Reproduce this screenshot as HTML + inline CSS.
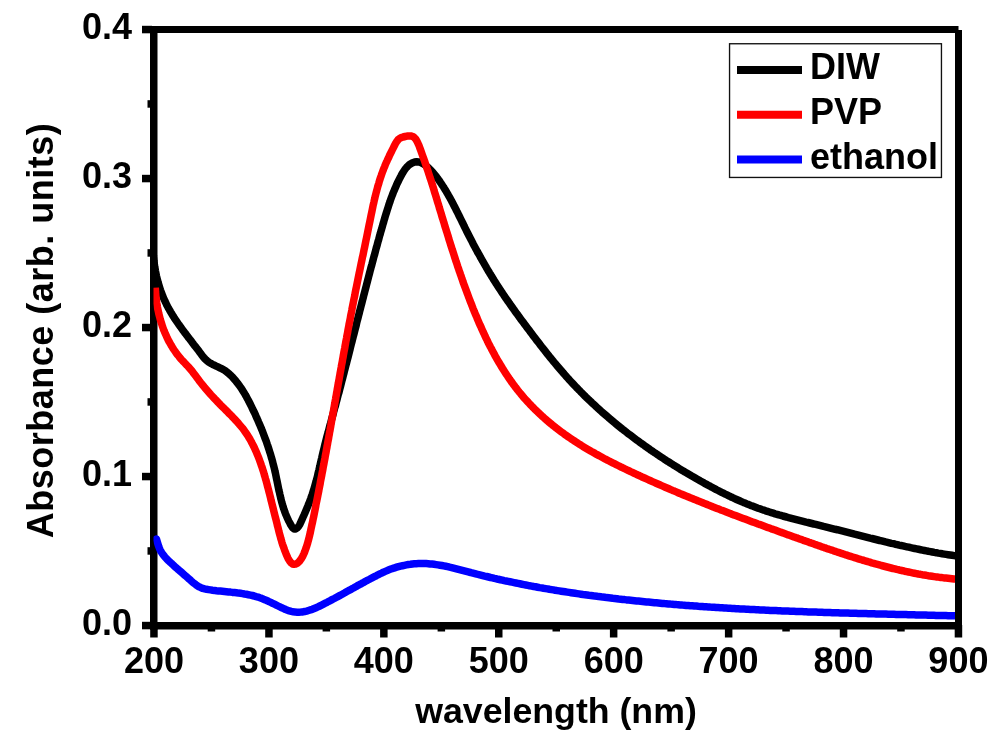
<!DOCTYPE html>
<html><head><meta charset="utf-8"><style>
html,body{margin:0;padding:0;background:#fff;width:988px;height:737px;overflow:hidden}
svg{display:block;will-change:transform}
text{font-family:"Liberation Sans",sans-serif}
</style></head><body>
<svg width="988" height="737" viewBox="0 0 988 737">
<rect width="988" height="737" fill="#fff"/>
<defs><clipPath id="pc"><rect x="153.5" y="30" width="801.5" height="592"/></clipPath></defs>
<g fill="#000">
<rect x="150" y="26" width="7.5" height="603.5"/>
<rect x="150" y="622" width="812" height="7.5"/>
<rect x="142" y="26" width="816.5" height="7"/>
<rect x="955" y="30" width="7" height="599.5"/>
<rect x="142" y="621.8" width="10" height="7.5"/>
<rect x="142" y="472.8" width="10" height="7.5"/>
<rect x="142" y="323.8" width="10" height="7.5"/>
<rect x="142" y="174.8" width="10" height="7.5"/>
<rect x="142" y="25.8" width="10" height="7.5"/>
<rect x="147.5" y="547.2" width="5" height="7.5"/>
<rect x="147.5" y="398.2" width="5" height="7.5"/>
<rect x="147.5" y="249.2" width="5" height="7.5"/>
<rect x="147.5" y="100.2" width="5" height="7.5"/>
<rect x="150.2" y="625" width="7.5" height="12.5"/>
<rect x="265.2" y="625" width="7.5" height="12.5"/>
<rect x="380.1" y="625" width="7.5" height="12.5"/>
<rect x="495.0" y="625" width="7.5" height="12.5"/>
<rect x="609.9" y="625" width="7.5" height="12.5"/>
<rect x="724.9" y="625" width="7.5" height="12.5"/>
<rect x="839.8" y="625" width="7.5" height="12.5"/>
<rect x="954.7" y="625" width="7.5" height="12.5"/>
<rect x="207.7" y="625" width="7.5" height="6.5"/>
<rect x="322.6" y="625" width="7.5" height="6.5"/>
<rect x="437.6" y="625" width="7.5" height="6.5"/>
<rect x="552.5" y="625" width="7.5" height="6.5"/>
<rect x="667.4" y="625" width="7.5" height="6.5"/>
<rect x="782.3" y="625" width="7.5" height="6.5"/>
<rect x="897.2" y="625" width="7.5" height="6.5"/>
</g>
<g clip-path="url(#pc)" fill="none" stroke-width="7.5" stroke-linejoin="round" stroke-linecap="butt">
<path d="M153.4,255.1 L153.5,257.0 L153.7,259.0 L153.9,260.9 L154.2,262.9 L154.4,264.8 L154.7,266.8 L155.1,268.8 L155.4,270.7 L155.8,272.7 L156.2,274.7 L156.6,276.6 L157.1,278.6 L157.6,280.5 L158.1,282.5 L158.7,284.4 L159.3,286.3 L159.9,288.3 L160.5,290.2 L161.2,292.1 L161.9,293.9 L162.6,295.8 L163.4,297.7 L164.2,299.5 L165.0,301.3 L165.9,303.1 L166.7,304.9 L167.7,306.7 L168.6,308.4 L169.6,310.1 L170.6,311.9 L171.6,313.6 L172.6,315.2 L173.7,316.9 L174.7,318.6 L175.8,320.2 L177.0,321.9 L178.1,323.5 L179.2,325.1 L180.4,326.7 L181.6,328.4 L182.7,330.0 L183.9,331.6 L185.1,333.2 L186.3,334.7 L187.5,336.3 L188.7,337.9 L190.0,339.5 L191.2,341.1 L192.4,342.7 L193.6,344.3 L194.8,345.8 L196.1,347.4 L197.3,349.0 L198.5,350.6 L199.7,352.2 L200.9,353.8 L202.1,355.4 L203.3,357.0 L204.6,358.5 L206.0,359.9 L207.5,361.2 L209.1,362.3 L210.8,363.4 L212.5,364.3 L214.3,365.2 L216.2,366.1 L218.0,366.9 L219.8,367.8 L221.6,368.7 L223.4,369.6 L225.1,370.7 L226.7,371.8 L228.2,373.1 L229.7,374.4 L231.2,375.8 L232.6,377.2 L233.9,378.7 L235.2,380.2 L236.5,381.8 L237.7,383.3 L238.9,384.9 L240.0,386.5 L241.2,388.2 L242.3,389.8 L243.3,391.5 L244.4,393.2 L245.4,395.0 L246.4,396.7 L247.3,398.4 L248.3,400.2 L249.2,402.0 L250.1,403.8 L251.0,405.6 L251.9,407.4 L252.7,409.2 L253.6,411.0 L254.5,412.8 L255.3,414.6 L256.1,416.4 L256.9,418.3 L257.8,420.1 L258.5,421.9 L259.3,423.8 L260.1,425.6 L260.9,427.4 L261.6,429.3 L262.4,431.1 L263.1,433.0 L263.8,434.8 L264.5,436.7 L265.2,438.6 L265.9,440.4 L266.6,442.3 L267.2,444.2 L267.9,446.1 L268.5,448.0 L269.1,449.9 L269.7,451.8 L270.3,453.7 L270.9,455.6 L271.4,457.5 L272.0,459.4 L272.5,461.3 L273.0,463.3 L273.5,465.2 L274.0,467.1 L274.5,469.1 L274.9,471.0 L275.4,473.0 L275.8,474.9 L276.2,476.9 L276.6,478.9 L277.0,480.8 L277.4,482.8 L277.8,484.8 L278.2,486.8 L278.6,488.7 L279.0,490.7 L279.5,492.6 L279.9,494.6 L280.4,496.5 L280.8,498.5 L281.3,500.4 L281.8,502.4 L282.4,504.3 L282.9,506.2 L283.5,508.1 L284.2,510.0 L284.8,511.9 L285.5,513.7 L286.3,515.6 L287.1,517.4 L287.9,519.2 L288.7,521.0 L289.7,522.8 L290.6,524.6 L291.7,526.3 L292.8,527.9 L294.1,529.0 L295.7,528.9 L297.3,527.9 L298.6,526.4 L299.7,524.6 L300.6,522.7 L301.4,520.8 L302.3,518.9 L303.1,517.0 L304.0,515.1 L304.8,513.3 L305.6,511.4 L306.4,509.6 L307.1,507.7 L307.9,505.9 L308.6,504.0 L309.4,502.2 L310.1,500.3 L310.8,498.5 L311.4,496.6 L312.1,494.7 L312.7,492.9 L313.3,491.0 L313.9,489.1 L314.5,487.2 L315.0,485.3 L315.5,483.4 L316.1,481.4 L316.6,479.5 L317.1,477.6 L317.6,475.7 L318.0,473.7 L318.5,471.8 L319.0,469.8 L319.4,467.9 L319.9,465.9 L320.3,464.0 L320.8,462.0 L321.2,460.1 L321.7,458.1 L322.1,456.2 L322.6,454.2 L323.0,452.3 L323.5,450.3 L324.0,448.4 L324.5,446.4 L324.9,444.5 L325.4,442.6 L325.9,440.6 L326.4,438.7 L326.9,436.8 L327.4,434.8 L328.0,432.9 L328.5,431.0 L329.0,429.1 L329.5,427.1 L330.0,425.2 L330.6,423.3 L331.1,421.4 L331.6,419.4 L332.1,417.5 L332.7,415.6 L333.2,413.7 L333.7,411.7 L334.2,409.8 L334.7,407.9 L335.3,406.0 L335.8,404.0 L336.3,402.1 L336.8,400.2 L337.3,398.3 L337.8,396.3 L338.3,394.4 L338.9,392.5 L339.4,390.5 L339.9,388.6 L340.4,386.7 L340.9,384.8 L341.4,382.8 L341.9,380.9 L342.4,379.0 L342.9,377.0 L343.4,375.1 L343.9,373.2 L344.4,371.2 L344.9,369.3 L345.4,367.4 L345.9,365.4 L346.4,363.5 L346.9,361.6 L347.4,359.6 L347.9,357.7 L348.4,355.8 L348.9,353.8 L349.4,351.9 L349.9,349.9 L350.3,348.0 L350.8,346.1 L351.3,344.1 L351.8,342.2 L352.3,340.3 L352.8,338.3 L353.3,336.4 L353.8,334.5 L354.3,332.5 L354.8,330.6 L355.3,328.6 L355.8,326.7 L356.3,324.8 L356.7,322.8 L357.2,320.9 L357.7,319.0 L358.2,317.0 L358.7,315.1 L359.2,313.2 L359.7,311.2 L360.2,309.3 L360.7,307.4 L361.2,305.4 L361.7,303.5 L362.2,301.5 L362.7,299.6 L363.2,297.7 L363.7,295.7 L364.2,293.8 L364.7,291.9 L365.2,289.9 L365.7,288.0 L366.2,286.1 L366.7,284.1 L367.2,282.2 L367.7,280.3 L368.2,278.3 L368.7,276.4 L369.2,274.5 L369.7,272.5 L370.2,270.6 L370.7,268.7 L371.2,266.8 L371.8,264.8 L372.3,262.9 L372.8,261.0 L373.3,259.0 L373.8,257.1 L374.4,255.2 L374.9,253.3 L375.4,251.3 L375.9,249.4 L376.4,247.5 L377.0,245.6 L377.5,243.6 L378.0,241.7 L378.6,239.8 L379.1,237.9 L379.6,235.9 L380.2,234.0 L380.7,232.1 L381.3,230.2 L381.8,228.3 L382.4,226.4 L382.9,224.4 L383.5,222.5 L384.0,220.6 L384.6,218.7 L385.1,216.8 L385.7,214.9 L386.3,213.0 L386.9,211.1 L387.5,209.2 L388.1,207.3 L388.7,205.4 L389.3,203.5 L390.0,201.6 L390.6,199.7 L391.3,197.8 L392.0,196.0 L392.7,194.1 L393.4,192.2 L394.2,190.4 L395.0,188.5 L395.8,186.7 L396.6,184.8 L397.4,183.0 L398.3,181.2 L399.2,179.4 L400.1,177.6 L401.1,175.8 L402.0,174.0 L403.1,172.2 L404.2,170.5 L405.3,168.9 L406.6,167.4 L407.9,166.0 L409.4,164.7 L411.0,163.6 L412.8,162.7 L414.7,162.0 L416.7,161.7 L418.6,161.9 L420.4,162.4 L422.2,163.2 L424.0,164.2 L425.7,165.5 L427.3,166.8 L428.8,168.2 L430.2,169.6 L431.6,171.1 L433.0,172.6 L434.2,174.1 L435.5,175.7 L436.7,177.2 L437.9,178.8 L439.1,180.4 L440.2,182.1 L441.3,183.7 L442.4,185.4 L443.5,187.0 L444.5,188.7 L445.6,190.4 L446.6,192.1 L447.6,193.8 L448.6,195.6 L449.6,197.3 L450.5,199.0 L451.5,200.8 L452.4,202.6 L453.3,204.3 L454.2,206.1 L455.2,207.9 L456.1,209.7 L457.0,211.5 L457.9,213.2 L458.7,215.0 L459.6,216.8 L460.5,218.6 L461.4,220.4 L462.3,222.2 L463.2,224.0 L464.0,225.8 L464.9,227.6 L465.8,229.4 L466.7,231.2 L467.6,233.0 L468.5,234.8 L469.4,236.6 L470.3,238.3 L471.3,240.1 L472.2,241.9 L473.1,243.7 L474.0,245.4 L475.0,247.2 L475.9,248.9 L476.9,250.7 L477.8,252.5 L478.8,254.2 L479.8,255.9 L480.7,257.7 L481.7,259.4 L482.7,261.2 L483.7,262.9 L484.7,264.6 L485.7,266.3 L486.7,268.1 L487.7,269.8 L488.7,271.5 L489.7,273.2 L490.8,274.9 L491.8,276.6 L492.9,278.3 L493.9,280.0 L495.0,281.7 L496.0,283.4 L497.1,285.0 L498.2,286.7 L499.3,288.4 L500.4,290.0 L501.5,291.7 L502.6,293.4 L503.7,295.0 L504.8,296.7 L505.9,298.3 L507.1,299.9 L508.2,301.6 L509.4,303.2 L510.5,304.8 L511.7,306.5 L512.8,308.1 L514.0,309.7 L515.1,311.3 L516.3,313.0 L517.5,314.6 L518.7,316.2 L519.8,317.8 L521.0,319.4 L522.2,321.0 L523.4,322.6 L524.6,324.2 L525.8,325.8 L527.0,327.4 L528.2,329.0 L529.4,330.6 L530.6,332.2 L531.8,333.8 L533.0,335.4 L534.2,337.0 L535.4,338.6 L536.6,340.2 L537.9,341.7 L539.1,343.3 L540.3,344.9 L541.5,346.5 L542.8,348.1 L544.0,349.6 L545.2,351.2 L546.5,352.8 L547.7,354.3 L549.0,355.9 L550.2,357.5 L551.5,359.0 L552.8,360.6 L554.0,362.1 L555.3,363.6 L556.6,365.2 L557.9,366.7 L559.2,368.2 L560.5,369.7 L561.8,371.2 L563.1,372.8 L564.4,374.3 L565.7,375.7 L567.0,377.2 L568.4,378.7 L569.7,380.2 L571.1,381.7 L572.4,383.1 L573.8,384.6 L575.1,386.0 L576.5,387.5 L577.9,388.9 L579.3,390.3 L580.7,391.8 L582.1,393.2 L583.5,394.6 L584.9,396.0 L586.3,397.4 L587.8,398.8 L589.2,400.2 L590.7,401.5 L592.1,402.9 L593.6,404.3 L595.0,405.6 L596.5,407.0 L598.0,408.3 L599.4,409.7 L600.9,411.0 L602.4,412.3 L603.9,413.6 L605.4,414.9 L606.9,416.2 L608.4,417.5 L610.0,418.8 L611.5,420.1 L613.0,421.4 L614.5,422.7 L616.1,424.0 L617.6,425.2 L619.2,426.5 L620.7,427.7 L622.3,429.0 L623.9,430.2 L625.4,431.4 L627.0,432.7 L628.6,433.9 L630.2,435.1 L631.8,436.3 L633.4,437.5 L635.0,438.7 L636.6,439.9 L638.2,441.1 L639.8,442.3 L641.4,443.4 L643.1,444.6 L644.7,445.8 L646.3,446.9 L648.0,448.1 L649.6,449.2 L651.2,450.4 L652.9,451.5 L654.5,452.6 L656.2,453.7 L657.9,454.9 L659.5,456.0 L661.2,457.1 L662.9,458.2 L664.6,459.3 L666.2,460.4 L667.9,461.4 L669.6,462.5 L671.3,463.6 L673.0,464.7 L674.7,465.7 L676.4,466.8 L678.1,467.8 L679.8,468.9 L681.5,469.9 L683.2,470.9 L684.9,472.0 L686.7,473.0 L688.4,474.0 L690.1,475.0 L691.8,476.0 L693.6,477.0 L695.3,478.0 L697.0,479.0 L698.8,480.0 L700.5,481.0 L702.3,482.0 L704.0,482.9 L705.7,483.9 L707.5,484.9 L709.3,485.8 L711.0,486.8 L712.8,487.7 L714.5,488.6 L716.3,489.6 L718.1,490.5 L719.8,491.4 L721.6,492.3 L723.4,493.2 L725.2,494.1 L727.0,494.9 L728.8,495.8 L730.6,496.7 L732.4,497.5 L734.2,498.4 L736.0,499.2 L737.8,500.0 L739.6,500.8 L741.4,501.6 L743.3,502.4 L745.1,503.1 L746.9,503.9 L748.8,504.6 L750.6,505.4 L752.5,506.1 L754.3,506.8 L756.2,507.5 L758.1,508.2 L759.9,508.8 L761.8,509.5 L763.7,510.1 L765.6,510.8 L767.5,511.4 L769.4,512.0 L771.3,512.6 L773.2,513.2 L775.1,513.8 L777.0,514.3 L778.9,514.9 L780.9,515.4 L782.8,516.0 L784.7,516.5 L786.6,517.0 L788.6,517.6 L790.5,518.1 L792.4,518.6 L794.4,519.1 L796.3,519.6 L798.3,520.1 L800.2,520.6 L802.2,521.1 L804.1,521.6 L806.0,522.1 L808.0,522.5 L809.9,523.0 L811.9,523.5 L813.8,524.0 L815.8,524.4 L817.7,524.9 L819.7,525.4 L821.6,525.9 L823.6,526.4 L825.5,526.8 L827.5,527.3 L829.4,527.8 L831.3,528.3 L833.3,528.8 L835.2,529.3 L837.2,529.7 L839.1,530.2 L841.0,530.7 L843.0,531.2 L844.9,531.7 L846.9,532.2 L848.8,532.7 L850.7,533.2 L852.7,533.7 L854.6,534.2 L856.5,534.6 L858.5,535.1 L860.4,535.6 L862.3,536.1 L864.3,536.6 L866.2,537.1 L868.1,537.6 L870.1,538.1 L872.0,538.5 L873.9,539.0 L875.9,539.5 L877.8,540.0 L879.7,540.5 L881.7,540.9 L883.6,541.4 L885.6,541.9 L887.5,542.3 L889.4,542.8 L891.4,543.3 L893.3,543.7 L895.2,544.2 L897.2,544.6 L899.1,545.1 L901.1,545.5 L903.0,545.9 L905.0,546.4 L906.9,546.8 L908.8,547.2 L910.8,547.7 L912.7,548.1 L914.7,548.5 L916.6,548.9 L918.6,549.3 L920.6,549.7 L922.5,550.1 L924.5,550.5 L926.4,550.9 L928.4,551.3 L930.4,551.6 L932.3,552.0 L934.3,552.4 L936.3,552.7 L938.2,553.1 L940.2,553.4 L942.2,553.8 L944.2,554.1 L946.1,554.4 L948.1,554.7 L950.1,555.0 L952.1,555.3 L954.1,555.6 L956.1,555.9 L958.1,556.2" stroke="#000"/>
<path d="M155.3,287.7 L155.4,289.6 L155.5,291.6 L155.7,293.6 L155.8,295.5 L156.1,297.5 L156.3,299.5 L156.5,301.5 L156.8,303.4 L157.2,305.4 L157.5,307.4 L157.9,309.4 L158.3,311.3 L158.7,313.3 L159.2,315.2 L159.7,317.2 L160.2,319.1 L160.8,321.1 L161.4,323.0 L162.0,324.9 L162.6,326.8 L163.3,328.7 L164.0,330.6 L164.8,332.4 L165.6,334.3 L166.4,336.1 L167.2,337.9 L168.1,339.7 L169.0,341.5 L170.0,343.2 L171.0,345.0 L172.0,346.7 L173.0,348.4 L174.1,350.0 L175.3,351.7 L176.4,353.3 L177.6,354.9 L178.9,356.4 L180.1,358.0 L181.4,359.5 L182.8,361.0 L184.2,362.4 L185.5,363.9 L186.9,365.3 L188.3,366.8 L189.6,368.3 L190.9,369.8 L192.2,371.3 L193.4,372.9 L194.6,374.5 L195.8,376.1 L197.0,377.7 L198.2,379.3 L199.4,380.9 L200.6,382.5 L201.9,384.1 L203.1,385.6 L204.4,387.2 L205.7,388.7 L207.0,390.2 L208.3,391.7 L209.6,393.2 L210.9,394.7 L212.3,396.2 L213.6,397.6 L215.0,399.1 L216.4,400.5 L217.7,402.0 L219.1,403.4 L220.5,404.9 L221.9,406.3 L223.4,407.7 L224.8,409.1 L226.2,410.5 L227.6,411.9 L229.0,413.4 L230.5,414.8 L231.9,416.2 L233.2,417.7 L234.6,419.1 L236.0,420.6 L237.3,422.0 L238.6,423.5 L239.9,425.1 L241.2,426.6 L242.5,428.1 L243.7,429.7 L244.8,431.3 L246.0,433.0 L247.1,434.6 L248.2,436.3 L249.2,438.0 L250.2,439.7 L251.2,441.5 L252.1,443.3 L253.0,445.0 L253.9,446.8 L254.8,448.7 L255.6,450.5 L256.4,452.3 L257.2,454.2 L258.0,456.1 L258.7,457.9 L259.4,459.8 L260.1,461.7 L260.8,463.6 L261.4,465.5 L262.1,467.4 L262.7,469.3 L263.3,471.2 L263.9,473.1 L264.4,475.0 L265.0,476.9 L265.5,478.8 L266.1,480.7 L266.6,482.6 L267.1,484.5 L267.6,486.5 L268.1,488.4 L268.6,490.3 L269.1,492.2 L269.6,494.1 L270.1,496.1 L270.6,498.0 L271.0,500.0 L271.5,501.9 L272.0,503.9 L272.5,505.9 L273.0,507.8 L273.5,509.8 L274.0,511.8 L274.5,513.8 L275.0,515.8 L275.5,517.7 L276.0,519.7 L276.5,521.6 L277.0,523.6 L277.4,525.5 L277.9,527.3 L278.4,529.2 L278.8,531.1 L279.3,532.9 L279.8,534.8 L280.3,536.6 L280.8,538.5 L281.4,540.4 L281.9,542.3 L282.5,544.2 L283.2,546.1 L283.9,548.1 L284.6,550.1 L285.4,552.1 L286.2,554.2 L287.1,556.3 L288.0,558.3 L289.1,560.2 L290.2,561.8 L291.4,563.1 L292.6,564.0 L294.0,564.3 L295.5,564.1 L297.0,563.4 L298.5,562.3 L299.8,560.9 L301.0,559.2 L302.1,557.4 L303.1,555.5 L304.0,553.5 L304.8,551.5 L305.5,549.5 L306.2,547.6 L306.8,545.8 L307.4,543.9 L307.9,542.1 L308.4,540.2 L308.9,538.3 L309.4,536.4 L309.8,534.5 L310.3,532.5 L310.7,530.6 L311.1,528.6 L311.5,526.7 L311.9,524.7 L312.4,522.8 L312.8,520.8 L313.2,518.8 L313.6,516.9 L314.0,514.9 L314.4,512.9 L314.8,511.0 L315.2,509.0 L315.6,507.1 L315.9,505.1 L316.3,503.1 L316.7,501.2 L317.1,499.2 L317.5,497.2 L317.9,495.3 L318.3,493.3 L318.7,491.3 L319.0,489.4 L319.4,487.4 L319.8,485.5 L320.2,483.5 L320.5,481.5 L320.9,479.6 L321.3,477.6 L321.7,475.6 L322.0,473.7 L322.4,471.7 L322.8,469.7 L323.1,467.8 L323.5,465.8 L323.9,463.8 L324.2,461.9 L324.6,459.9 L325.0,457.9 L325.3,456.0 L325.7,454.0 L326.1,452.0 L326.4,450.1 L326.8,448.1 L327.1,446.1 L327.5,444.2 L327.8,442.2 L328.2,440.2 L328.6,438.3 L328.9,436.3 L329.3,434.3 L329.6,432.3 L330.0,430.4 L330.3,428.4 L330.7,426.4 L331.0,424.5 L331.4,422.5 L331.7,420.5 L332.1,418.6 L332.4,416.6 L332.8,414.6 L333.1,412.7 L333.5,410.7 L333.8,408.7 L334.2,406.8 L334.5,404.8 L334.9,402.8 L335.2,400.9 L335.6,398.9 L335.9,396.9 L336.3,395.0 L336.6,393.0 L337.0,391.0 L337.3,389.1 L337.7,387.1 L338.0,385.1 L338.4,383.1 L338.7,381.2 L339.1,379.2 L339.4,377.2 L339.8,375.3 L340.1,373.3 L340.5,371.3 L340.8,369.4 L341.2,367.4 L341.5,365.4 L341.9,363.5 L342.3,361.5 L342.6,359.5 L343.0,357.6 L343.3,355.6 L343.7,353.6 L344.0,351.7 L344.4,349.7 L344.8,347.7 L345.1,345.8 L345.5,343.8 L345.8,341.8 L346.2,339.9 L346.6,337.9 L346.9,335.9 L347.3,334.0 L347.7,332.0 L348.0,330.0 L348.4,328.1 L348.8,326.1 L349.1,324.1 L349.5,322.2 L349.9,320.2 L350.3,318.3 L350.6,316.3 L351.0,314.3 L351.4,312.4 L351.8,310.4 L352.1,308.4 L352.5,306.5 L352.9,304.5 L353.3,302.5 L353.7,300.6 L354.1,298.6 L354.5,296.7 L354.9,294.7 L355.2,292.7 L355.6,290.8 L356.0,288.8 L356.4,286.9 L356.8,284.9 L357.2,282.9 L357.6,281.0 L358.0,279.0 L358.4,277.0 L358.8,275.1 L359.2,273.1 L359.6,271.2 L360.0,269.2 L360.4,267.2 L360.8,265.3 L361.2,263.3 L361.6,261.4 L362.0,259.4 L362.4,257.4 L362.9,255.5 L363.3,253.5 L363.7,251.6 L364.1,249.6 L364.5,247.7 L364.9,245.7 L365.3,243.7 L365.7,241.8 L366.1,239.8 L366.5,237.9 L366.9,235.9 L367.3,233.9 L367.7,232.0 L368.1,230.0 L368.5,228.1 L368.9,226.1 L369.3,224.1 L369.7,222.2 L370.1,220.2 L370.5,218.3 L370.9,216.3 L371.3,214.3 L371.7,212.4 L372.1,210.4 L372.5,208.5 L372.9,206.5 L373.3,204.6 L373.8,202.6 L374.2,200.7 L374.7,198.7 L375.1,196.8 L375.6,194.9 L376.1,192.9 L376.6,191.0 L377.1,189.1 L377.6,187.2 L378.2,185.2 L378.8,183.3 L379.3,181.4 L379.9,179.5 L380.5,177.6 L381.2,175.7 L381.8,173.8 L382.5,172.0 L383.2,170.1 L383.9,168.2 L384.7,166.4 L385.4,164.5 L386.2,162.7 L387.1,160.8 L387.9,159.0 L388.8,157.2 L389.6,155.3 L390.5,153.5 L391.4,151.7 L392.3,149.9 L393.2,148.1 L394.1,146.3 L395.0,144.5 L395.9,142.8 L397.0,141.2 L398.1,139.7 L399.5,138.5 L401.2,137.6 L403.1,137.0 L405.1,136.5 L407.1,136.1 L409.0,135.9 L410.8,135.9 L412.3,136.3 L413.7,137.1 L414.9,138.2 L416.0,139.5 L416.9,141.1 L417.8,142.9 L418.6,144.7 L419.4,146.7 L420.1,148.6 L420.8,150.6 L421.5,152.6 L422.2,154.5 L422.9,156.5 L423.6,158.4 L424.3,160.3 L425.0,162.3 L425.6,164.2 L426.3,166.1 L426.9,168.1 L427.6,170.0 L428.2,171.9 L428.8,173.8 L429.4,175.7 L430.0,177.6 L430.7,179.5 L431.3,181.4 L431.9,183.3 L432.5,185.2 L433.1,187.1 L433.7,189.0 L434.2,190.9 L434.8,192.8 L435.4,194.7 L436.0,196.6 L436.6,198.5 L437.1,200.4 L437.7,202.3 L438.3,204.2 L438.9,206.1 L439.4,208.0 L440.0,209.9 L440.6,211.8 L441.2,213.7 L441.7,215.6 L442.3,217.5 L442.9,219.4 L443.5,221.3 L444.1,223.2 L444.6,225.1 L445.2,227.0 L445.8,228.9 L446.4,230.8 L447.0,232.7 L447.6,234.6 L448.2,236.5 L448.7,238.4 L449.3,240.3 L449.9,242.2 L450.5,244.1 L451.1,246.0 L451.7,247.9 L452.3,249.8 L453.0,251.8 L453.6,253.7 L454.2,255.6 L454.8,257.5 L455.4,259.4 L456.0,261.3 L456.7,263.2 L457.3,265.1 L457.9,267.0 L458.6,268.9 L459.2,270.8 L459.9,272.6 L460.5,274.5 L461.2,276.4 L461.8,278.3 L462.5,280.2 L463.1,282.1 L463.8,284.0 L464.5,285.9 L465.2,287.8 L465.9,289.6 L466.6,291.5 L467.3,293.4 L468.0,295.3 L468.7,297.2 L469.4,299.0 L470.1,300.9 L470.8,302.8 L471.6,304.6 L472.3,306.5 L473.0,308.4 L473.8,310.2 L474.5,312.1 L475.3,313.9 L476.1,315.8 L476.9,317.6 L477.6,319.5 L478.4,321.3 L479.2,323.2 L480.0,325.0 L480.9,326.8 L481.7,328.7 L482.5,330.5 L483.3,332.3 L484.2,334.1 L485.0,335.9 L485.9,337.8 L486.8,339.6 L487.6,341.4 L488.5,343.2 L489.4,344.9 L490.3,346.7 L491.3,348.5 L492.2,350.3 L493.1,352.0 L494.1,353.8 L495.0,355.6 L496.0,357.3 L497.0,359.1 L498.0,360.8 L499.0,362.5 L500.0,364.2 L501.0,365.9 L502.1,367.6 L503.1,369.3 L504.2,371.0 L505.3,372.7 L506.4,374.4 L507.5,376.0 L508.6,377.7 L509.7,379.3 L510.9,380.9 L512.0,382.6 L513.2,384.2 L514.4,385.8 L515.6,387.4 L516.8,388.9 L518.0,390.5 L519.3,392.1 L520.6,393.6 L521.8,395.1 L523.1,396.7 L524.4,398.2 L525.8,399.7 L527.1,401.1 L528.5,402.6 L529.8,404.1 L531.2,405.5 L532.6,407.0 L534.0,408.4 L535.4,409.8 L536.9,411.2 L538.3,412.6 L539.8,414.0 L541.2,415.3 L542.7,416.7 L544.2,418.0 L545.7,419.3 L547.2,420.7 L548.8,422.0 L550.3,423.2 L551.9,424.5 L553.4,425.8 L555.0,427.0 L556.6,428.3 L558.2,429.5 L559.8,430.7 L561.4,431.9 L563.0,433.1 L564.6,434.3 L566.2,435.4 L567.9,436.6 L569.5,437.7 L571.2,438.8 L572.8,439.9 L574.5,441.0 L576.2,442.1 L577.8,443.2 L579.5,444.3 L581.2,445.3 L582.9,446.4 L584.6,447.4 L586.3,448.4 L588.0,449.4 L589.8,450.5 L591.5,451.5 L593.2,452.4 L595.0,453.4 L596.7,454.4 L598.5,455.4 L600.2,456.3 L602.0,457.3 L603.7,458.2 L605.5,459.2 L607.3,460.1 L609.1,461.0 L610.8,461.9 L612.6,462.8 L614.4,463.7 L616.2,464.6 L618.0,465.5 L619.8,466.4 L621.6,467.3 L623.4,468.1 L625.2,469.0 L627.0,469.9 L628.8,470.7 L630.6,471.6 L632.4,472.4 L634.2,473.3 L636.0,474.1 L637.9,475.0 L639.7,475.8 L641.5,476.7 L643.3,477.5 L645.1,478.3 L647.0,479.1 L648.8,480.0 L650.6,480.8 L652.4,481.6 L654.3,482.4 L656.1,483.2 L657.9,484.0 L659.7,484.8 L661.6,485.6 L663.4,486.4 L665.2,487.2 L667.1,488.0 L668.9,488.8 L670.7,489.6 L672.6,490.4 L674.4,491.1 L676.3,491.9 L678.1,492.7 L679.9,493.5 L681.8,494.2 L683.6,495.0 L685.5,495.8 L687.3,496.5 L689.2,497.3 L691.0,498.1 L692.9,498.8 L694.7,499.6 L696.6,500.3 L698.4,501.1 L700.3,501.8 L702.1,502.5 L704.0,503.3 L705.9,504.0 L707.7,504.8 L709.6,505.5 L711.4,506.2 L713.3,507.0 L715.1,507.7 L717.0,508.4 L718.9,509.1 L720.7,509.9 L722.6,510.6 L724.5,511.3 L726.3,512.0 L728.2,512.7 L730.1,513.4 L731.9,514.2 L733.8,514.9 L735.7,515.6 L737.5,516.3 L739.4,517.0 L741.3,517.7 L743.2,518.4 L745.0,519.1 L746.9,519.8 L748.8,520.5 L750.6,521.2 L752.5,521.9 L754.4,522.6 L756.3,523.3 L758.1,524.0 L760.0,524.6 L761.9,525.3 L763.8,526.0 L765.7,526.7 L767.5,527.4 L769.4,528.1 L771.3,528.8 L773.2,529.4 L775.1,530.1 L776.9,530.8 L778.8,531.5 L780.7,532.2 L782.6,532.8 L784.5,533.5 L786.4,534.2 L788.2,534.9 L790.1,535.5 L792.0,536.2 L793.9,536.9 L795.8,537.6 L797.7,538.2 L799.6,538.9 L801.4,539.6 L803.3,540.3 L805.2,540.9 L807.1,541.6 L809.0,542.3 L810.9,542.9 L812.8,543.6 L814.7,544.3 L816.6,544.9 L818.4,545.6 L820.3,546.2 L822.2,546.9 L824.1,547.6 L826.0,548.2 L827.9,548.9 L829.8,549.5 L831.7,550.1 L833.6,550.8 L835.5,551.4 L837.4,552.1 L839.3,552.7 L841.2,553.3 L843.1,553.9 L845.0,554.6 L846.9,555.2 L848.8,555.8 L850.7,556.4 L852.6,557.0 L854.5,557.6 L856.4,558.2 L858.3,558.8 L860.2,559.4 L862.2,560.0 L864.1,560.5 L866.0,561.1 L867.9,561.7 L869.8,562.2 L871.7,562.8 L873.7,563.3 L875.6,563.9 L877.5,564.4 L879.4,564.9 L881.4,565.5 L883.3,566.0 L885.2,566.5 L887.1,567.0 L889.1,567.5 L891.0,568.0 L892.9,568.5 L894.9,568.9 L896.8,569.4 L898.8,569.8 L900.7,570.3 L902.7,570.7 L904.6,571.2 L906.6,571.6 L908.5,572.0 L910.5,572.4 L912.4,572.8 L914.4,573.2 L916.3,573.6 L918.3,574.0 L920.3,574.3 L922.2,574.7 L924.2,575.0 L926.2,575.3 L928.1,575.7 L930.1,576.0 L932.1,576.3 L934.1,576.6 L936.1,576.9 L938.0,577.1 L940.0,577.4 L942.0,577.6 L944.0,577.9 L946.0,578.1 L948.0,578.3 L950.0,578.5 L952.0,578.7 L954.0,578.9 L956.0,579.1 L958.0,579.2" stroke="#ff0000"/>
<path d="M156.4,539.0 L157.0,540.9 L157.6,542.8 L158.2,544.8 L158.8,546.7 L159.5,548.5 L160.3,550.3 L161.3,552.0 L162.3,553.6 L163.5,555.2 L164.7,556.7 L166.1,558.2 L167.4,559.6 L168.8,561.0 L170.3,562.3 L171.7,563.7 L173.2,565.0 L174.7,566.4 L176.1,567.7 L177.6,569.0 L179.2,570.3 L180.7,571.6 L182.2,572.9 L183.7,574.3 L185.2,575.6 L186.8,576.9 L188.3,578.3 L189.8,579.6 L191.3,581.0 L192.8,582.3 L194.4,583.6 L196.0,584.8 L197.6,585.9 L199.3,586.9 L201.0,587.7 L202.8,588.4 L204.7,588.9 L206.6,589.3 L208.5,589.6 L210.5,589.9 L212.5,590.2 L214.5,590.4 L216.4,590.7 L218.4,590.9 L220.4,591.1 L222.4,591.3 L224.4,591.5 L226.5,591.7 L228.5,591.9 L230.5,592.1 L232.5,592.4 L234.5,592.6 L236.5,592.8 L238.5,593.1 L240.5,593.3 L242.5,593.6 L244.5,594.0 L246.4,594.3 L248.4,594.7 L250.4,595.1 L252.3,595.5 L254.2,596.0 L256.1,596.6 L258.0,597.1 L259.9,597.8 L261.7,598.4 L263.6,599.2 L265.4,599.9 L267.2,600.7 L269.0,601.6 L270.8,602.4 L272.6,603.3 L274.5,604.2 L276.3,605.1 L278.1,606.0 L280.0,606.9 L281.8,607.8 L283.7,608.6 L285.6,609.5 L287.5,610.2 L289.4,610.9 L291.3,611.4 L293.2,611.8 L295.2,612.1 L297.1,612.2 L299.0,612.2 L300.9,612.1 L302.8,611.9 L304.7,611.5 L306.6,611.1 L308.5,610.5 L310.4,609.9 L312.3,609.3 L314.2,608.5 L316.1,607.7 L317.9,606.9 L319.8,606.0 L321.6,605.1 L323.5,604.1 L325.3,603.2 L327.1,602.3 L328.9,601.3 L330.7,600.4 L332.5,599.4 L334.3,598.5 L336.1,597.5 L337.8,596.6 L339.6,595.6 L341.3,594.7 L343.1,593.7 L344.8,592.8 L346.5,591.8 L348.3,590.8 L350.0,589.9 L351.7,588.9 L353.5,588.0 L355.2,587.0 L356.9,586.1 L358.6,585.1 L360.4,584.2 L362.1,583.2 L363.9,582.3 L365.6,581.3 L367.3,580.4 L369.1,579.5 L370.9,578.5 L372.6,577.6 L374.4,576.7 L376.2,575.8 L378.0,574.8 L379.8,573.9 L381.6,573.1 L383.4,572.2 L385.3,571.4 L387.1,570.6 L389.0,569.8 L390.9,569.1 L392.8,568.4 L394.7,567.8 L396.6,567.2 L398.6,566.6 L400.5,566.1 L402.5,565.7 L404.4,565.3 L406.4,564.9 L408.4,564.5 L410.4,564.3 L412.4,564.0 L414.3,563.8 L416.3,563.7 L418.3,563.6 L420.3,563.5 L422.3,563.5 L424.2,563.5 L426.2,563.6 L428.2,563.7 L430.1,563.9 L432.1,564.1 L434.1,564.3 L436.0,564.6 L438.0,564.9 L439.9,565.2 L441.9,565.5 L443.8,565.9 L445.8,566.3 L447.7,566.7 L449.7,567.2 L451.6,567.6 L453.6,568.1 L455.5,568.6 L457.4,569.1 L459.4,569.6 L461.3,570.1 L463.3,570.6 L465.2,571.1 L467.2,571.6 L469.1,572.1 L471.0,572.7 L473.0,573.2 L474.9,573.7 L476.9,574.2 L478.8,574.6 L480.8,575.1 L482.7,575.6 L484.7,576.1 L486.6,576.5 L488.6,577.0 L490.5,577.5 L492.5,577.9 L494.4,578.4 L496.4,578.8 L498.3,579.3 L500.3,579.7 L502.3,580.1 L504.2,580.6 L506.2,581.0 L508.1,581.4 L510.1,581.8 L512.0,582.2 L514.0,582.6 L516.0,583.0 L517.9,583.4 L519.9,583.8 L521.9,584.2 L523.8,584.6 L525.8,585.0 L527.8,585.4 L529.7,585.8 L531.7,586.1 L533.7,586.5 L535.6,586.8 L537.6,587.2 L539.6,587.6 L541.5,587.9 L543.5,588.3 L545.5,588.6 L547.4,588.9 L549.4,589.3 L551.4,589.6 L553.4,589.9 L555.3,590.3 L557.3,590.6 L559.3,590.9 L561.2,591.2 L563.2,591.5 L565.2,591.8 L567.2,592.1 L569.1,592.4 L571.1,592.7 L573.1,593.0 L575.1,593.3 L577.1,593.6 L579.0,593.9 L581.0,594.2 L583.0,594.5 L585.0,594.7 L587.0,595.0 L588.9,595.3 L590.9,595.5 L592.9,595.8 L594.9,596.1 L596.9,596.3 L598.8,596.6 L600.8,596.8 L602.8,597.1 L604.8,597.3 L606.8,597.6 L608.8,597.8 L610.7,598.0 L612.7,598.3 L614.7,598.5 L616.7,598.7 L618.7,599.0 L620.7,599.2 L622.7,599.4 L624.6,599.6 L626.6,599.9 L628.6,600.1 L630.6,600.3 L632.6,600.5 L634.6,600.7 L636.6,600.9 L638.5,601.1 L640.5,601.3 L642.5,601.5 L644.5,601.7 L646.5,601.9 L648.5,602.1 L650.5,602.3 L652.5,602.5 L654.5,602.7 L656.4,602.8 L658.4,603.0 L660.4,603.2 L662.4,603.4 L664.4,603.6 L666.4,603.7 L668.4,603.9 L670.4,604.1 L672.4,604.2 L674.4,604.4 L676.4,604.6 L678.3,604.7 L680.3,604.9 L682.3,605.1 L684.3,605.2 L686.3,605.4 L688.3,605.5 L690.3,605.7 L692.3,605.8 L694.3,606.0 L696.3,606.1 L698.3,606.3 L700.3,606.4 L702.3,606.5 L704.3,606.7 L706.3,606.8 L708.2,606.9 L710.2,607.1 L712.2,607.2 L714.2,607.3 L716.2,607.5 L718.2,607.6 L720.2,607.7 L722.2,607.8 L724.2,608.0 L726.2,608.1 L728.2,608.2 L730.2,608.3 L732.2,608.4 L734.2,608.5 L736.2,608.7 L738.2,608.8 L740.2,608.9 L742.2,609.0 L744.2,609.1 L746.2,609.2 L748.2,609.3 L750.2,609.4 L752.2,609.5 L754.2,609.6 L756.2,609.7 L758.1,609.8 L760.1,609.9 L762.1,610.0 L764.1,610.1 L766.1,610.2 L768.1,610.3 L770.1,610.4 L772.1,610.4 L774.1,610.5 L776.1,610.6 L778.1,610.7 L780.1,610.8 L782.1,610.9 L784.1,611.0 L786.1,611.0 L788.1,611.1 L790.1,611.2 L792.1,611.3 L794.1,611.3 L796.1,611.4 L798.1,611.5 L800.1,611.6 L802.1,611.6 L804.1,611.7 L806.1,611.8 L808.1,611.9 L810.1,611.9 L812.1,612.0 L814.1,612.1 L816.1,612.1 L818.1,612.2 L820.1,612.3 L822.1,612.3 L824.1,612.4 L826.1,612.5 L828.1,612.5 L830.1,612.6 L832.1,612.7 L834.1,612.7 L836.1,612.8 L838.1,612.8 L840.1,612.9 L842.1,613.0 L844.1,613.0 L846.1,613.1 L848.1,613.1 L850.1,613.2 L852.1,613.2 L854.1,613.3 L856.1,613.3 L858.1,613.4 L860.1,613.5 L862.1,613.5 L864.1,613.6 L866.1,613.6 L868.1,613.7 L870.1,613.7 L872.1,613.8 L874.1,613.8 L876.1,613.9 L878.1,613.9 L880.1,614.0 L882.1,614.0 L884.1,614.1 L886.1,614.1 L888.1,614.2 L890.1,614.2 L892.1,614.3 L894.1,614.3 L896.1,614.4 L898.1,614.4 L900.1,614.5 L902.1,614.5 L904.1,614.6 L906.1,614.6 L908.1,614.7 L910.1,614.7 L912.1,614.8 L914.1,614.8 L916.0,614.9 L918.0,614.9 L920.0,615.0 L922.0,615.0 L924.0,615.1 L926.0,615.1 L928.0,615.2 L930.0,615.2 L932.0,615.3 L934.0,615.3 L936.0,615.4 L938.0,615.4 L940.0,615.5 L942.0,615.5 L944.0,615.6 L946.0,615.6 L948.0,615.7 L950.0,615.7 L952.0,615.8 L954.0,615.8 L956.0,615.9 L958.0,615.9" stroke="#0000ff" stroke-linecap="round"/>
</g>
<rect x="955" y="30" width="7" height="599.5"/>
<g font-family="Liberation Sans, sans-serif" font-weight="bold" font-size="36" fill="#000">
<text x="132.0" y="634.5" text-anchor="end">0.0</text>
<text x="132.0" y="485.5" text-anchor="end">0.1</text>
<text x="132.0" y="336.5" text-anchor="end">0.2</text>
<text x="132.0" y="187.5" text-anchor="end">0.3</text>
<text x="132.0" y="38.5" text-anchor="end">0.4</text>
<text x="154.0" y="673.0" text-anchor="middle">200</text>
<text x="268.9" y="673.0" text-anchor="middle">300</text>
<text x="383.8" y="673.0" text-anchor="middle">400</text>
<text x="498.8" y="673.0" text-anchor="middle">500</text>
<text x="613.7" y="673.0" text-anchor="middle">600</text>
<text x="728.6" y="673.0" text-anchor="middle">700</text>
<text x="843.5" y="673.0" text-anchor="middle">800</text>
<text x="958.4" y="673.0" text-anchor="middle">900</text>
<text x="556.0" y="723.0" text-anchor="middle" font-size="35.7">wavelength (nm)</text>
<text transform="translate(53.0,330.5) rotate(-90)" text-anchor="middle" letter-spacing="0.5">Absorbance (arb. units)</text>
</g>
<rect x="729.55" y="43.75" width="211.9" height="133.7" fill="#fff" stroke="#111" stroke-width="1.35"/>
<g stroke-width="8">
<line x1="737" y1="70" x2="802" y2="70" stroke="#000"/>
<line x1="737" y1="114.7" x2="802" y2="114.7" stroke="#ff0000"/>
<line x1="737" y1="159.5" x2="802" y2="159.5" stroke="#0000ff"/>
</g>
<g font-family="Liberation Sans, sans-serif" font-weight="bold" font-size="36" fill="#000">
<text x="810.0" y="78.9">DIW</text>
<text x="810.0" y="123.7">PVP</text>
<text x="810.0" y="168.5">ethanol</text>
</g>
</svg>
</body></html>
